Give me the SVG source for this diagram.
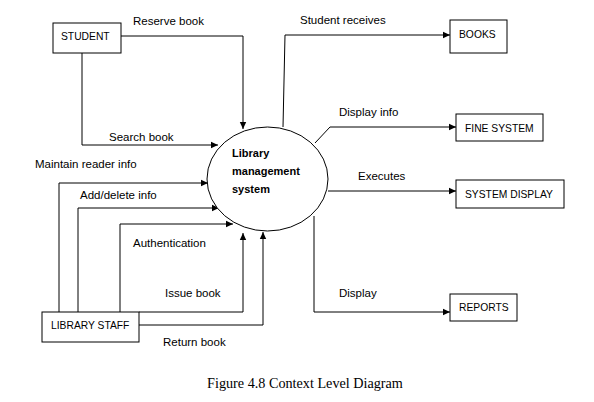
<svg xmlns="http://www.w3.org/2000/svg" width="594" height="402" viewBox="0 0 594 402">
<style>
.box{fill:#fff;stroke:#000;stroke-width:1}
.t{font-family:"Liberation Sans",Arial,sans-serif;font-size:11.5px;fill:#000}
.u{font-family:"Liberation Sans",Arial,sans-serif;font-size:10.3px;fill:#000}
.b{font-family:"Liberation Sans",Arial,sans-serif;font-size:11px;font-weight:bold;fill:#000}
.c{fill:none;stroke:#000;stroke-width:1}
.cap{font-family:"Liberation Serif","Times New Roman",serif;font-size:14.2px;fill:#000}
</style>
<defs>
<marker id="ah" markerWidth="8" markerHeight="8" refX="7" refY="4" orient="auto" markerUnits="userSpaceOnUse">
<path d="M0,0.8 L7,4 L0,7.2 Z" fill="#000"/>
</marker>
</defs>
<rect width="594" height="402" fill="#fff"/>
<g id="connectors">
<polyline class="c" points="121,36 243,36 243,129" marker-end="url(#ah)"/>
<polyline class="c" points="82,53 82,145 218,145" marker-end="url(#ah)"/>
<polyline class="c" points="283,127 285,35 450,35" marker-end="url(#ah)"/>
<polyline class="c" points="315,143 330,127 456,127" marker-end="url(#ah)"/>
<polyline class="c" points="328,191 456,191" marker-end="url(#ah)"/>
<polyline class="c" points="314,216 314,312 450,312" marker-end="url(#ah)"/>
<polyline class="c" points="59,312 59,183 208,183" marker-end="url(#ah)"/>
<polyline class="c" points="78,312 78,208 219,208" marker-end="url(#ah)"/>
<polyline class="c" points="120,312 120,224 233,224" marker-end="url(#ah)" stroke="#555"/>
<polyline class="c" points="139,312 243,312 243,233" marker-end="url(#ah)"/>
<polyline class="c" points="139,325 263,325 263,232" marker-end="url(#ah)"/>
<text class="t" x="133" y="25">Reserve book</text>
<text class="t" x="109" y="141">Search book</text>
<text class="t" x="300" y="24">Student receives</text>
<text class="t" x="339" y="116">Display info</text>
<text class="t" x="358" y="180">Executes</text>
<text class="t" x="339" y="297">Display</text>
<text class="t" x="35" y="168">Maintain reader info</text>
<text class="t" x="80" y="199">Add/delete info</text>
<text class="t" x="133" y="247">Authentication</text>
<text class="t" x="165" y="297">Issue book</text>
<text class="t" x="163" y="346">Return book</text>
</g>
<g id="system">
<ellipse class="box" cx="267.5" cy="179" rx="60.5" ry="52"/>
<text class="b" x="232" y="157">Library</text>
<text class="b" x="232" y="175">management</text>
<text class="b" x="232" y="193">system</text>
</g>
<g id="student">
<rect class="box" x="53" y="23" width="68" height="30"/>
<text class="u" x="61" y="40">STUDENT</text>
</g>
<g id="books">
<rect class="box" x="450" y="20" width="57" height="33"/>
<text class="u" x="459" y="38">BOOKS</text>
</g>
<g id="fine-system">
<rect class="box" x="456" y="114" width="87" height="27"/>
<text class="u" x="465" y="132">FINE SYSTEM</text>
</g>
<g id="system-display">
<rect class="box" x="456" y="180" width="108" height="28"/>
<text class="u" x="465" y="198">SYSTEM DISPLAY</text>
</g>
<g id="reports">
<rect class="box" x="450" y="294" width="67" height="27"/>
<text class="u" x="459" y="311">REPORTS</text>
</g>
<g id="library-staff">
<rect class="box" x="42" y="312" width="97" height="30"/>
<text class="u" x="51" y="329">LIBRARY STAFF</text>
</g>
<text class="cap" x="305" y="388" text-anchor="middle">Figure 4.8 Context Level Diagram</text>
</svg>
